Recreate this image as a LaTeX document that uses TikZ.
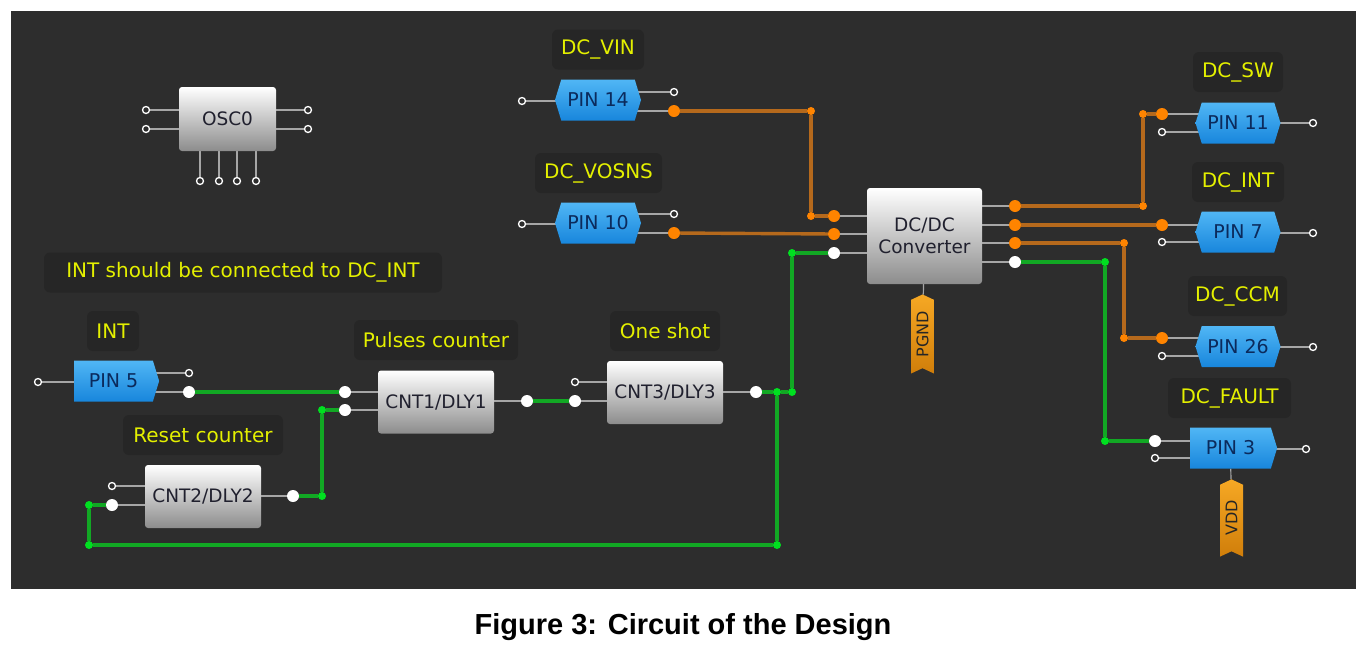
\documentclass[tikz,border=0pt]{standalone}
\usepackage{fontspec}
\setmainfont{DejaVu Sans}
\newfontfamily\capfont{Liberation Sans}
\usetikzlibrary{shapes.symbols,backgrounds}
\definecolor{panelcol}{HTML}{2D2D2D}
\definecolor{tagcol}{HTML}{262626}
\definecolor{stubcol}{HTML}{A6A6A6}
\definecolor{wireg}{HTML}{12A824}
\definecolor{wireo}{HTML}{B5691C}
\definecolor{dotg}{HTML}{00E020}
\definecolor{doto}{HTML}{FF8400}
\definecolor{pintxt}{HTML}{0B2A5C}
\definecolor{blocktxt}{HTML}{20202E}
\definecolor{tagtxt}{HTML}{E4F000}
\definecolor{pintop}{HTML}{50B6F5}
\definecolor{pinbot}{HTML}{1886DC}
\definecolor{ribtop}{HTML}{F6A824}
\definecolor{ribbot}{HTML}{D07E0A}

\begin{document}
\begin{tikzpicture}[x=1pt,y=-1pt]
				\tikzstyle{block}=[rounded corners=3pt,top color=white,bottom color=black!45,text=blocktxt,font=\fontsize{18.5}{22}\selectfont,align=center,inner sep=0pt]
				\tikzstyle{pinbox}=[shape=signal,signal pointer angle=146,top color=pintop,bottom color=pinbot,text=pintxt,font=\fontsize{19}{22}\selectfont,inner sep=0pt,minimum height=41pt]
				\tikzstyle{ribbon}=[shape=signal,signal to=north,signal from=south,signal pointer angle=130,top color=ribtop,bottom color=ribbot,text=black!85,font=\fontsize{16}{18}\selectfont,inner sep=0pt,minimum width=23pt]
				\tikzstyle{tag}=[fill=tagcol,rounded corners=6pt,text=tagtxt,font=\fontsize{20}{24}\selectfont,inner sep=0pt,minimum height=40pt]
				\tikzstyle{dotopen}=[shape=circle,draw=white,line width=1.3pt,fill=panelcol,inner sep=0pt,minimum size=7pt]
				\tikzstyle{dotw}=[shape=circle,fill=white,inner sep=0pt,minimum size=12pt]
				\tikzstyle{doto}=[dotw,fill=doto]
				\tikzstyle{jg}=[shape=circle,fill=dotg,inner sep=0pt,minimum size=8pt]
				\tikzstyle{jo}=[shape=circle,fill=doto,inner sep=0pt,minimum size=8pt]
				\tikzstyle{stub}=[draw=stubcol,line width=1.2pt]
				\tikzstyle{wg}=[draw=wireg,line width=3.4pt]
				\tikzstyle{wo}=[draw=wireo,line width=3.4pt]
				
				\useasboundingbox (0,0) rectangle (1369,649);
				\begin{scope}[on background layer]
				\fill[white] (0,0) rectangle (1369,649);
				\fill[panelcol] (11,11) rectangle (1356,589);
				\end{scope}
				
				\node[block,minimum width=97pt,minimum height=64pt](osc) at (227.5,119){OSC0};
				\node[block,minimum width=115pt,minimum height=96pt](dcdc) at (924.5,236){DC/DC\\Converter};
				\node[block,minimum width=116pt,minimum height=63pt](cnt1) at (436,402){CNT1/DLY1};
				\node[block,minimum width=116pt,minimum height=63pt](cnt2) at (203,496.5){CNT2/DLY2};
				\node[block,minimum width=116pt,minimum height=63pt](cnt3) at (665,392.5){CNT3/DLY3};
				
				\node[pinbox,signal to=east and west,minimum width=86pt](pin14) at (598,100){PIN 14};
				\node[pinbox,signal to=east and west,minimum width=86pt](pin10) at (598,223){PIN 10};
				\node[pinbox,signal to=east and west,minimum width=85pt](pin11) at (1238,123){PIN 11};
				\node[pinbox,signal to=east and west,minimum width=85pt](pin7) at (1238,232){PIN 7};
				\node[pinbox,signal to=east and west,minimum width=85pt](pin26) at (1238,346.5){PIN 26};
				\node[pinbox,signal to=east,minimum width=87pt](pin3) at (1230.5,448){PIN 3};
				\node[pinbox,signal to=east,minimum width=85pt](pin5) at (113.5,381){PIN 5};
				
				\node[ribbon,minimum height=74pt](pgnd) at (922.5,334){\rotatebox{90}{PGND}};
				\node[ribbon,minimum height=72pt](vdd) at (1231.5,518){\rotatebox{90}{VDD}};
				
				\node[tag,minimum width=92pt](tvin) at (598,49.5){DC\_VIN};
				\node[tag,minimum width=127pt](tvos) at (598.5,173){DC\_VOSNS};
				\node[tag,minimum width=90pt](tsw) at (1238,72){DC\_SW};
				\node[tag,minimum width=92pt](tint) at (1238,182){DC\_INT};
				\node[tag,minimum width=99pt](tccm) at (1237.5,296){DC\_CCM};
				\node[tag,minimum width=123pt](tfault) at (1229.5,398){DC\_FAULT};
				\node[tag,minimum width=398pt](tnote) at (243,272.5){INT should be connected to DC\_INT};
				\node[tag,minimum width=52pt](tpin5) at (113,331){INT};
				\node[tag,minimum width=160pt](treset) at (203,435){Reset counter};
				\node[tag,minimum width=164pt](tpulse) at (436,340){Pulses counter};
				\node[tag,minimum width=110pt](tshot) at (665,331){One shot};
				
				\node[dotopen](oa) at (146,110){};
				\node[dotopen](ob) at (146,129){};
				\node[dotopen](oc) at (308,110){};
				\node[dotopen](od) at (308,129){};
				\node[dotopen](oe) at (200,181){};
				\node[dotopen](of) at (219,181){};
				\node[dotopen](og) at (237,181){};
				\node[dotopen](oh) at (256,181){};
				
				\node[dotopen](p14i) at (522,101){};
				\node[dotopen](p14a) at (674,92){};
				\node[doto](p14b) at (674,111){};
				\node[dotopen](p10i) at (522,224){};
				\node[dotopen](p10a) at (674,214){};
				\node[doto](p10b) at (674,233){};
				
				\node[doto](da) at (834,216){};
				\node[doto](db) at (834,234){};
				\node[dotw](dc) at (834,253){};
				\node[doto](dd) at (1015,206){};
				\node[doto](de) at (1015,225){};
				\node[doto](df) at (1015,243){};
				\node[dotw](dg) at (1015,262){};
				
				\node[doto](p11a) at (1162,114){};
				\node[dotopen](p11b) at (1162,132){};
				\node[dotopen](p11o) at (1313,123){};
				\node[doto](p7a) at (1162,225){};
				\node[dotopen](p7b) at (1162,242){};
				\node[dotopen](p7o) at (1313,233){};
				\node[doto](p26a) at (1162,338){};
				\node[dotopen](p26b) at (1162,356){};
				\node[dotopen](p26o) at (1313,347){};
				\node[dotw](p3a) at (1155,441){};
				\node[dotopen](p3b) at (1155,458){};
				\node[dotopen](p3o) at (1306,449){};
				
				\node[dotopen](p5i) at (38,382){};
				\node[dotopen](p5a) at (189,373){};
				\node[dotw](p5b) at (189,392){};
				
				\node[dotw](c1a) at (345,392){};
				\node[dotw](c1b) at (345,410){};
				\node[dotw](c1o) at (527,401){};
				\node[dotopen](c2a) at (112,486){};
				\node[dotw](c2b) at (112,505){};
				\node[dotw](c2o) at (293,496){};
				\node[dotopen](c3a) at (575,382){};
				\node[dotw](c3b) at (575,401){};
				\node[dotw](c3o) at (756,392){};
				
				\node[jo](ja) at (811,111){};
				\node[jo](jb) at (811,216){};
				\node[jo](jc) at (1143,206){};
				\node[jo](jd) at (1143,114){};
				\node[jo](je) at (1124,243){};
				\node[jo](jf) at (1124,338){};
				\node[jg](jgt) at (792,253){};
				\node[jg](jh) at (792,392){};
				\node[jg](ji) at (777,392){};
				\node[jg](jj) at (777,545){};
				\node[jg](jk) at (89,545){};
				\node[jg](jl) at (89,505){};
				\node[jg](jm) at (322,496){};
				\node[jg](jn) at (322,410){};
				\node[jg](jq) at (1105,262){};
				\node[jg](jp) at (1105,441){};
				
				\begin{scope}[on background layer]
				\draw[stub] (oa) -- (oa -| osc.center);
				\draw[stub] (ob) -- (ob -| osc.center);
				\draw[stub] (oc) -- (oc -| osc.center);
				\draw[stub] (od) -- (od -| osc.center);
				\draw[stub] (oe) -- (oe |- osc.center);
				\draw[stub] (of) -- (of |- osc.center);
				\draw[stub] (og) -- (og |- osc.center);
				\draw[stub] (oh) -- (oh |- osc.center);
				
				\draw[stub] (p14i) -- (p14i -| pin14.center);
				\draw[stub] (p14a) -- (p14a -| pin14.center);
				\draw[stub] (p14b) -- (p14b -| pin14.center);
				\draw[stub] (p10i) -- (p10i -| pin10.center);
				\draw[stub] (p10a) -- (p10a -| pin10.center);
				\draw[stub] (p10b) -- (p10b -| pin10.center);
				
				\draw[stub] (da) -- (da -| dcdc.center);
				\draw[stub] (db) -- (db -| dcdc.center);
				\draw[stub] (dc) -- (dc -| dcdc.center);
				\draw[stub] (dd) -- (dd -| dcdc.center);
				\draw[stub] (de) -- (de -| dcdc.center);
				\draw[stub] (df) -- (df -| dcdc.center);
				\draw[stub] (dg) -- (dg -| dcdc.center);
				\draw[stub] (dcdc) -- (pgnd);
				
				\draw[stub] (p11a) -- (p11a -| pin11.center);
				\draw[stub] (p11b) -- (p11b -| pin11.center);
				\draw[stub] (p11o) -- (p11o -| pin11.center);
				\draw[stub] (p7a) -- (p7a -| pin7.center);
				\draw[stub] (p7b) -- (p7b -| pin7.center);
				\draw[stub] (p7o) -- (p7o -| pin7.center);
				\draw[stub] (p26a) -- (p26a -| pin26.center);
				\draw[stub] (p26b) -- (p26b -| pin26.center);
				\draw[stub] (p26o) -- (p26o -| pin26.center);
				\draw[stub] (p3a) -- (p3a -| pin3.center);
				\draw[stub] (p3b) -- (p3b -| pin3.center);
				\draw[stub] (p3o) -- (p3o -| pin3.center);
				\draw[stub] (pin3) -- (vdd);
				
				\draw[stub] (p5i) -- (p5i -| pin5.center);
				\draw[stub] (p5a) -- (p5a -| pin5.center);
				\draw[stub] (p5b) -- (p5b -| pin5.center);
				
				\draw[stub] (c1a) -- (c1a -| cnt1.center);
				\draw[stub] (c1b) -- (c1b -| cnt1.center);
				\draw[stub] (c1o) -- (c1o -| cnt1.center);
				\draw[stub] (c2a) -- (c2a -| cnt2.center);
				\draw[stub] (c2b) -- (c2b -| cnt2.center);
				\draw[stub] (c2o) -- (c2o -| cnt2.center);
				\draw[stub] (c3a) -- (c3a -| cnt3.center);
				\draw[stub] (c3b) -- (c3b -| cnt3.center);
				\draw[stub] (c3o) -- (c3o -| cnt3.center);
				\end{scope}
				
				\draw[wo] (p14b) -- (ja);
				\draw[wo] (ja) -- (jb);
				\draw[wo] (jb) -- (da);
				\draw[wo] (p10b) -- (db);
				\draw[wo] (dd) -- (jc);
				\draw[wo] (jc) -- (jd);
				\draw[wo] (jd) -- (p11a);
				\draw[wo] (de) -- (p7a);
				\draw[wo] (df) -- (je);
				\draw[wo] (je) -- (jf);
				\draw[wo] (jf) -- (p26a);
				
				\draw[wg] (dc) -- (jgt);
				\draw[wg] (jgt) -- (jh);
				\draw[wg] (jh) -- (ji);
				\draw[wg] (ji) -- (c3o);
				\draw[wg] (ji) -- (jj);
				\draw[wg] (jj) -- (jk);
				\draw[wg] (jk) -- (jl);
				\draw[wg] (jl) -- (c2b);
				\draw[wg] (c2o) -- (jm);
				\draw[wg] (jm) -- (jn);
				\draw[wg] (jn) -- (c1b);
				\draw[wg] (p5b) -- (c1a);
				\draw[wg] (c1o) -- (c3b);
				\draw[wg] (dg) -- (jq);
				\draw[wg] (jq) -- (jp);
				\draw[wg] (jp) -- (p3a);
				
				\node[font=\capfont\bfseries\fontsize{29}{32}\selectfont,text=black](title) at (683,627){Figure 3: Circuit of the Design};
				\end{tikzpicture}
\end{document}
